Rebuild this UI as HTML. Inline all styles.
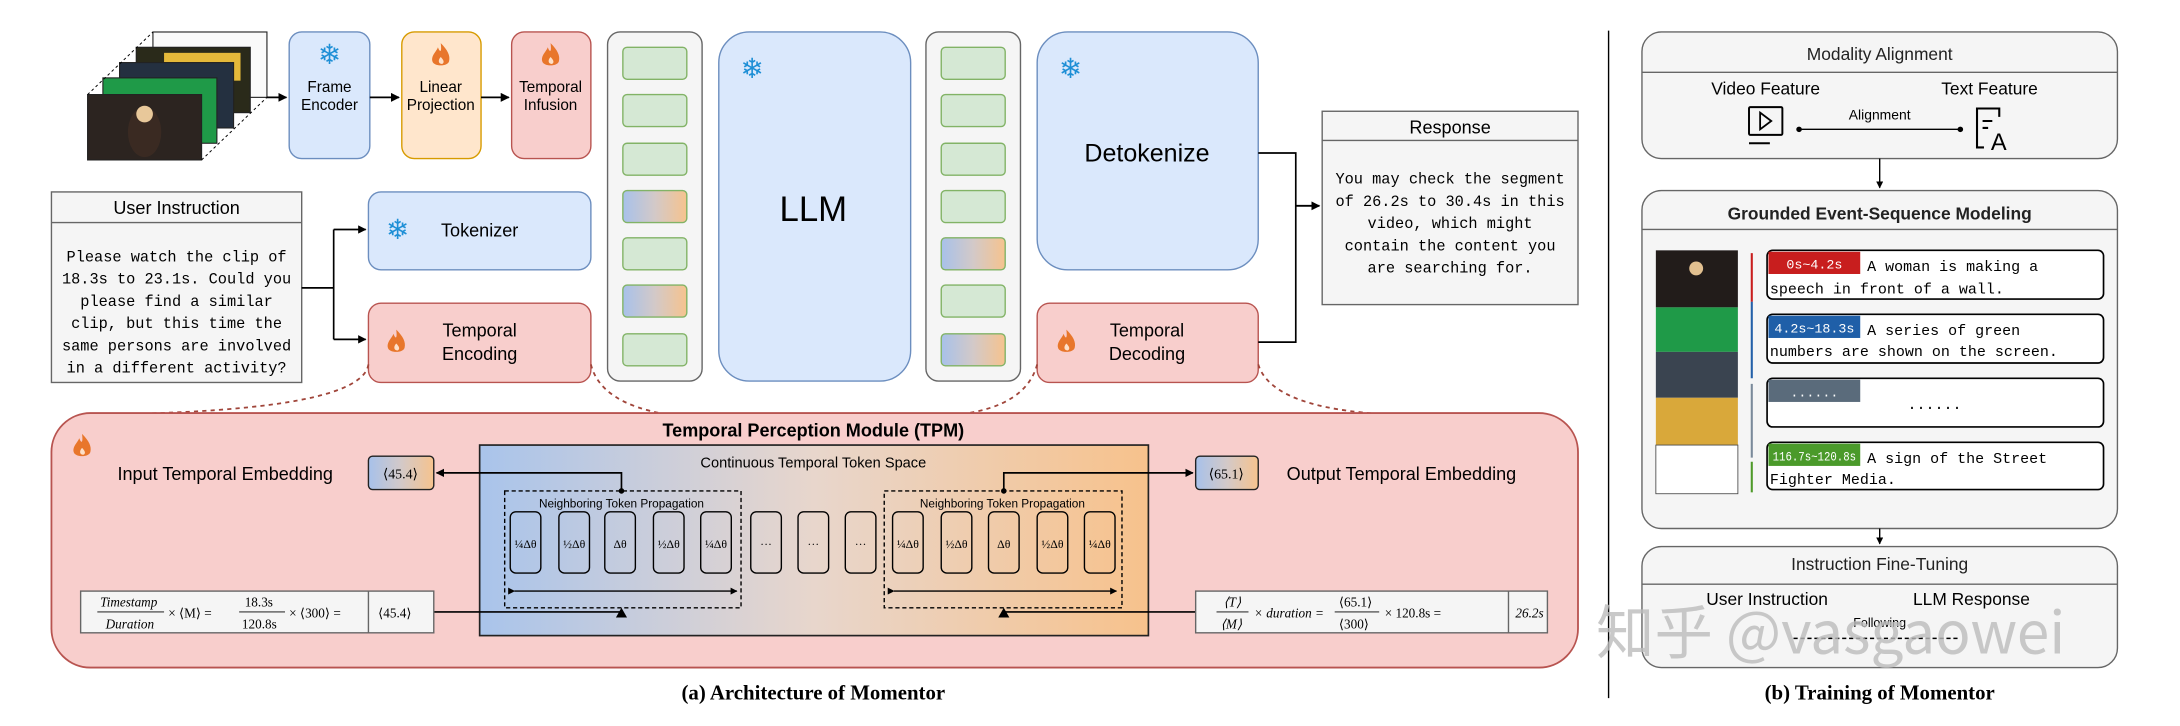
<!DOCTYPE html>
<html><head><meta charset="utf-8"><style>
html,body{margin:0;padding:0;background:#fff;}
svg{display:block;}
text{font-family:"Liberation Sans",sans-serif;}
text.m,.m text{font-family:"Liberation Mono",monospace;}
text.s,.s text{font-family:"Liberation Serif",serif;}
text.sf{font-family:"DejaVu Sans",sans-serif;fill:#1e8fd6;}
</style></head><body>
<svg width="2180" height="726" viewBox="0 0 1568 522" preserveAspectRatio="none" xmlns="http://www.w3.org/2000/svg">
<defs>
<linearGradient id="g" x1="0" x2="1"><stop offset="0" stop-color="#a9c4eb"/><stop offset="0.5" stop-color="#e8d6cc"/><stop offset="1" stop-color="#f7c28c"/></linearGradient>
<linearGradient id="g2" x1="0" x2="1"><stop offset="0" stop-color="#a7c1ea"/><stop offset="0.5" stop-color="#d3c9c8"/><stop offset="1" stop-color="#f6c38e"/></linearGradient>
<marker id="a" viewBox="0 0 10 10" refX="9" refY="5" markerWidth="5" markerHeight="5" orient="auto"><path d="M0,0L10,5L0,10z" fill="#000"/></marker>
<g id="fl"><path d="M0,-9 C5,-4 7,0 6,4 C5,8 -5,8 -6,4 C-7,0 -3,-3 -2,-6 C-1,-3 1,-1 0,-9z" fill="#e8762b"/><path d="M0,1 C2,3 3,5 1,6 C-2,6 -2,3 0,1z" fill="#fde0c8"/></g>
</defs>
<rect width="1568" height="522" fill="#fff"/>

<g stroke="#222" stroke-width="0.8">
<rect x="110" y="23" width="82" height="47" fill="#fafafa"/>
<rect x="98" y="34" width="82" height="47" fill="#2a2a1a"/>
<rect x="118" y="38" width="55" height="20" fill="#e5b93a" stroke="none"/>
<rect x="86" y="45" width="82" height="47" fill="#243040"/>
<rect x="74" y="56" width="82" height="47" fill="#1f9a48"/>
<rect x="63" y="68" width="82" height="47" fill="#2c2420"/>
</g>
<ellipse cx="104" cy="95" rx="12" ry="18" fill="#3a2a22"/><circle cx="104" cy="82" r="6" fill="#e8c89a"/>
<g stroke="#000" stroke-width="0.7" stroke-dasharray="2,2" fill="none"><path d="M63,68L110,23M145,115L192,70"/></g>
<line x1="192" y1="70" x2="206" y2="70" stroke="#000" stroke-width="1.3" marker-end="url(#a)"/>

<rect x="208" y="23" width="58" height="91" rx="9" fill="#dae8fc" stroke="#6c8ebf"/>
<text class="sf" x="237" y="46" font-size="20" text-anchor="middle">❄</text>
<text x="237" y="66" font-size="11" text-anchor="middle">Frame</text><text x="237" y="79" font-size="11" text-anchor="middle">Encoder</text>
<line x1="266" y1="70" x2="287" y2="70" stroke="#000" stroke-width="1.3" marker-end="url(#a)"/>
<rect x="289" y="23" width="57" height="91" rx="9" fill="#ffe6cc" stroke="#d79b00"/>
<use href="#fl" x="317" y="40"/>
<text x="317" y="66" font-size="11" text-anchor="middle">Linear</text><text x="317" y="79" font-size="11" text-anchor="middle">Projection</text>
<line x1="346" y1="70" x2="366" y2="70" stroke="#000" stroke-width="1.3" marker-end="url(#a)"/>
<rect x="368" y="23" width="57" height="91" rx="9" fill="#f8cecc" stroke="#b85450"/>
<use href="#fl" x="396" y="40"/>
<text x="396" y="66" font-size="11" text-anchor="middle">Temporal</text><text x="396" y="79" font-size="11" text-anchor="middle">Infusion</text>

<rect x="437" y="23" width="68" height="251" rx="9" fill="#f5f5f5" stroke="#666"/>
<g stroke="#82b366">
<rect x="448" y="34" width="46" height="23" rx="3" fill="#d5e8d4"/>
<rect x="448" y="68" width="46" height="23" rx="3" fill="#d5e8d4"/>
<rect x="448" y="103" width="46" height="23" rx="3" fill="#d5e8d4"/>
<rect x="448" y="137" width="46" height="23" rx="3" fill="url(#g2)"/>
<rect x="448" y="171" width="46" height="23" rx="3" fill="#d5e8d4"/>
<rect x="448" y="205" width="46" height="23" rx="3" fill="url(#g2)"/>
<rect x="448" y="240" width="46" height="23" rx="3" fill="#d5e8d4"/>
</g>
<rect x="517" y="23" width="138" height="251" rx="22" fill="#dae8fc" stroke="#6c8ebf"/>
<text class="sf" x="541" y="56" font-size="20" text-anchor="middle">❄</text>
<text x="585" y="159" font-size="25" text-anchor="middle">LLM</text>
<rect x="666" y="23" width="68" height="251" rx="9" fill="#f5f5f5" stroke="#666"/>
<g stroke="#82b366">
<rect x="677" y="34" width="46" height="23" rx="3" fill="#d5e8d4"/>
<rect x="677" y="68" width="46" height="23" rx="3" fill="#d5e8d4"/>
<rect x="677" y="103" width="46" height="23" rx="3" fill="#d5e8d4"/>
<rect x="677" y="137" width="46" height="23" rx="3" fill="#d5e8d4"/>
<rect x="677" y="171" width="46" height="23" rx="3" fill="url(#g2)"/>
<rect x="677" y="205" width="46" height="23" rx="3" fill="#d5e8d4"/>
<rect x="677" y="240" width="46" height="23" rx="3" fill="url(#g2)"/>
</g>
<rect x="746" y="23" width="159" height="171" rx="22" fill="#dae8fc" stroke="#6c8ebf"/>
<text class="sf" x="770" y="56" font-size="20" text-anchor="middle">❄</text>
<text x="825" y="116" font-size="18" text-anchor="middle">Detokenize</text>
<rect x="746" y="218" width="159" height="57" rx="9" fill="#f8cecc" stroke="#b85450"/>
<use href="#fl" x="767" y="246"/>
<text x="825" y="242" font-size="13" text-anchor="middle">Temporal</text><text x="825" y="259" font-size="13" text-anchor="middle">Decoding</text>
<path d="M905,110H932V246H905" fill="none" stroke="#000" stroke-width="1.2"/>
<line x1="932" y1="148" x2="949" y2="148" stroke="#000" stroke-width="1.3" marker-end="url(#a)"/>

<rect x="951" y="80" width="184" height="139" fill="#f5f5f5" stroke="#666"/>
<line x1="951" y1="101" x2="1135" y2="101" stroke="#666"/>
<text x="1043" y="96" font-size="13" text-anchor="middle">Response</text>
<g class="m" font-size="11" text-anchor="middle">
<text x="1043" y="132">You may check the segment</text>
<text x="1043" y="148">of 26.2s to 30.4s in this</text>
<text x="1043" y="164">video, which might</text>
<text x="1043" y="180">contain the content you</text>
<text x="1043" y="196">are searching for.</text>
</g>

<rect x="37" y="138" width="180" height="137" fill="#f5f5f5" stroke="#666"/>
<line x1="37" y1="160" x2="217" y2="160" stroke="#666"/>
<text x="127" y="154" font-size="13" text-anchor="middle">User Instruction</text>
<g class="m" font-size="11" text-anchor="middle">
<text x="127" y="188">Please watch the clip of</text>
<text x="127" y="204">18.3s to 23.1s. Could you</text>
<text x="127" y="220">please find a similar</text>
<text x="127" y="236">clip, but this time the</text>
<text x="127" y="252">same persons are involved</text>
<text x="127" y="268">in a different activity?</text>
</g>
<path d="M217,207H240M240,165V244" fill="none" stroke="#000" stroke-width="1.2"/>
<line x1="240" y1="165" x2="263" y2="165" stroke="#000" stroke-width="1.2" marker-end="url(#a)"/>
<line x1="240" y1="244" x2="263" y2="244" stroke="#000" stroke-width="1.2" marker-end="url(#a)"/>
<rect x="265" y="138" width="160" height="56" rx="9" fill="#dae8fc" stroke="#6c8ebf"/>
<text class="sf" x="286" y="172" font-size="20" text-anchor="middle">❄</text>
<text x="345" y="170" font-size="13" text-anchor="middle">Tokenizer</text>
<rect x="265" y="218" width="160" height="57" rx="9" fill="#f8cecc" stroke="#b85450"/>
<use href="#fl" x="285" y="246"/>
<text x="345" y="242" font-size="13" text-anchor="middle">Temporal</text><text x="345" y="259" font-size="13" text-anchor="middle">Encoding</text>

<g fill="none" stroke="#a0453a" stroke-width="1.3" stroke-dasharray="3,3">
<path d="M265,262 Q260,296 70,298"/>
<path d="M425,262 Q432,290 480,298"/>
<path d="M746,262 Q738,292 690,298"/>
<path d="M905,262 Q915,294 1000,298"/>
</g>

<rect x="37" y="297" width="1098" height="183" rx="28" fill="#f8cecc" stroke="#b85450" stroke-width="1.3"/>
<text x="585" y="314" font-size="13" font-weight="bold" text-anchor="middle">Temporal Perception Module (TPM)</text>
<use href="#fl" x="59" y="321"/>
<rect x="345" y="320" width="481" height="137" fill="url(#g)" stroke="#222" stroke-width="1.2"/>
<text x="585" y="336" font-size="10.5" text-anchor="middle">Continuous Temporal Token Space</text>
<text x="162" y="345" font-size="13" text-anchor="middle">Input Temporal Embedding</text>
<rect x="265" y="328" width="47" height="24" rx="3" fill="url(#g2)" stroke="#222"/>
<text class="s" x="288" y="344" font-size="10" text-anchor="middle">⟨45.4⟩</text>
<rect x="860" y="328" width="45" height="24" rx="3" fill="url(#g2)" stroke="#222"/>
<text class="s" x="882" y="344" font-size="10" text-anchor="middle">⟨65.1⟩</text>
<text x="1008" y="345" font-size="13" text-anchor="middle">Output Temporal Embedding</text>

<g fill="none" stroke="#000" stroke-dasharray="3,2"><rect x="363" y="353" width="170" height="84"/><rect x="636" y="353" width="171" height="84"/></g>
<text x="447" y="365" font-size="8.5" text-anchor="middle">Neighboring Token Propagation</text>
<text x="721" y="365" font-size="8.5" text-anchor="middle">Neighboring Token Propagation</text>
<g fill="none" stroke="#000" stroke-width="1">
<rect x="367" y="368" width="22" height="44" rx="4"/><rect x="402" y="368" width="22" height="44" rx="4"/><rect x="435" y="368" width="22" height="44" rx="4"/><rect x="470" y="368" width="22" height="44" rx="4"/><rect x="504" y="368" width="22" height="44" rx="4"/>
<rect x="540" y="368" width="22" height="44" rx="4"/><rect x="574" y="368" width="22" height="44" rx="4"/><rect x="608" y="368" width="22" height="44" rx="4"/>
<rect x="642" y="368" width="22" height="44" rx="4"/><rect x="677" y="368" width="22" height="44" rx="4"/><rect x="711" y="368" width="22" height="44" rx="4"/><rect x="746" y="368" width="22" height="44" rx="4"/><rect x="780" y="368" width="22" height="44" rx="4"/>
</g>
<g class="s" font-size="8.5" text-anchor="middle">
<text x="378" y="394">¼Δθ</text><text x="413" y="394">½Δθ</text><text x="446" y="394">Δθ</text><text x="481" y="394">½Δθ</text><text x="515" y="394">¼Δθ</text>
<text x="551" y="394">···</text><text x="585" y="394">···</text><text x="619" y="394">···</text>
<text x="653" y="394">¼Δθ</text><text x="688" y="394">½Δθ</text><text x="722" y="394">Δθ</text><text x="757" y="394">½Δθ</text><text x="791" y="394">¼Δθ</text>
</g>
<g stroke="#000" stroke-width="1">
<line x1="370" y1="425" x2="530" y2="425" marker-end="url(#a)" marker-start="url(#a)"/>
<line x1="643" y1="425" x2="803" y2="425" marker-end="url(#a)" marker-start="url(#a)"/>
</g>
<g fill="none" stroke="#000" stroke-width="1.2">
<path d="M447,353V340H314" marker-end="url(#a)"/>
<path d="M312,440H447V442"/>
<path d="M722,353V340H858" marker-end="url(#a)"/>
<path d="M860,440H722V442"/>
</g>
<path d="M443,444L447,437L451,444z M718,444L722,437L726,444z"/>
<circle cx="447" cy="353" r="2"/><circle cx="722" cy="353" r="2"/>

<rect x="58" y="425" width="254" height="30" fill="#f5f5f5" stroke="#666"/><line x1="265" y1="425" x2="265" y2="455" stroke="#666"/>
<g class="s" font-size="9.5" font-style="italic"><text x="72" y="436">Timestamp</text><text x="76" y="452">Duration</text><line x1="70" y1="440" x2="118" y2="440" stroke="#000" stroke-width="0.6"/>
<text x="121" y="444" font-style="normal">× ⟨M⟩ =</text><text x="176" y="436" font-style="normal">18.3s</text><text x="174" y="452" font-style="normal">120.8s</text><line x1="172" y1="440" x2="205" y2="440" stroke="#000" stroke-width="0.6"/>
<text x="208" y="444" font-style="normal">× ⟨300⟩ =</text><text x="272" y="444" font-style="normal">⟨45.4⟩</text></g>
<rect x="860" y="425" width="253" height="30" fill="#f5f5f5" stroke="#666"/><line x1="1085" y1="425" x2="1085" y2="455" stroke="#666"/>
<g class="s" font-size="9.5" font-style="italic"><text x="880" y="436">⟨T⟩</text><text x="878" y="452">⟨M⟩</text><line x1="875" y1="440" x2="898" y2="440" stroke="#000" stroke-width="0.6"/>
<text x="902" y="444">× duration =</text><text x="963" y="436" font-style="normal">⟨65.1⟩</text><text x="963" y="452" font-style="normal">⟨300⟩</text><line x1="960" y1="440" x2="992" y2="440" stroke="#000" stroke-width="0.6"/>
<text x="996" y="444" font-style="normal">× 120.8s =</text><text x="1090" y="444">26.2s</text></g>
<text class="s" x="585" y="503" font-size="15" font-weight="bold" text-anchor="middle">(a) Architecture of Momentor</text>

<line x1="1157" y1="22" x2="1157" y2="502" stroke="#000"/>
<rect x="1181" y="23" width="342" height="91" rx="14" fill="#f5f5f5" stroke="#666"/>
<line x1="1181" y1="52" x2="1523" y2="52" stroke="#666"/>
<text x="1352" y="43" font-size="12.5" text-anchor="middle" fill="#222">Modality Alignment</text>
<text x="1270" y="68" font-size="12.5" text-anchor="middle">Video Feature</text>
<text x="1431" y="68" font-size="12.5" text-anchor="middle">Text Feature</text>
<rect x="1258" y="77" width="24" height="20" rx="1" fill="none" stroke="#000" stroke-width="1.4"/><path d="M1266,81L1274,87L1266,93z" fill="none" stroke="#000" stroke-width="1.3"/><line x1="1258" y1="103" x2="1273" y2="103" stroke="#000" stroke-width="1.4"/>
<line x1="1294" y1="93" x2="1410" y2="93" stroke="#000"/><circle cx="1294" cy="93" r="2"/><circle cx="1410" cy="93" r="2"/>
<text x="1352" y="86" font-size="10" text-anchor="middle">Alignment</text>
<path d="M1438,84V78H1422V106H1427M1426,87H1433M1426,92H1430" fill="none" stroke="#000" stroke-width="1.5"/><text x="1432" y="108" font-size="17">A</text>
<line x1="1352" y1="114" x2="1352" y2="135" stroke="#000" marker-end="url(#a)"/>

<rect x="1181" y="137" width="342" height="243" rx="14" fill="#f5f5f5" stroke="#666"/>
<line x1="1181" y1="165" x2="1523" y2="165" stroke="#666"/>
<text x="1352" y="158" font-size="12.5" font-weight="bold" text-anchor="middle" fill="#222">Grounded Event-Sequence Modeling</text>
<rect x="1191" y="180" width="59" height="41" fill="#221c1a"/><circle cx="1220" cy="193" r="5" fill="#e2c090"/>
<rect x="1191" y="221" width="59" height="32" fill="#1f9a48"/>
<rect x="1191" y="253" width="59" height="33" fill="#3a4450"/>
<rect x="1191" y="286" width="59" height="34" fill="#d9a83a"/>
<rect x="1191" y="320" width="59" height="35" fill="#fff" stroke="#444" stroke-width="0.6"/>
<line x1="1260" y1="182" x2="1260" y2="217" stroke="#c81e1e" stroke-width="1.5"/>
<line x1="1260" y1="217" x2="1260" y2="272" stroke="#2461a8" stroke-width="1.5"/>
<line x1="1260" y1="276" x2="1260" y2="329" stroke="#7a8a9a" stroke-width="1.5"/>
<line x1="1260" y1="332" x2="1260" y2="354" stroke="#4f9a2a" stroke-width="1.5"/>
<g fill="#fff" stroke="#000" stroke-width="1.2">
<rect x="1271" y="180" width="242" height="35" rx="4"/><rect x="1271" y="226" width="242" height="35" rx="4"/><rect x="1271" y="272" width="242" height="35" rx="4"/><rect x="1271" y="318" width="242" height="34" rx="4"/>
</g>
<rect x="1272" y="181" width="66" height="16" fill="#c81e1e"/><rect x="1272" y="227" width="66" height="16" fill="#1f5fa8"/><rect x="1272" y="273" width="66" height="16" fill="#5a6b7b"/><rect x="1272" y="319" width="66" height="16" fill="#4a9a2a"/>
<g class="m" font-size="10.8">
<text x="1305" y="193" text-anchor="middle" fill="#fff" font-size="9.6">0s~4.2s</text><text x="1343" y="195">A woman is making a</text><text x="1273" y="211">speech in front of a wall.</text>
<text x="1305" y="239" text-anchor="middle" fill="#fff" font-size="9.6">4.2s~18.3s</text><text x="1343" y="241">A series of green</text><text x="1273" y="256">numbers are shown on the screen.</text>
<text x="1305" y="285" text-anchor="middle" fill="#fff" font-size="9.6">......</text><text x="1372" y="294">......</text>
<text x="1275" y="331" fill="#fff" font-size="9.6" textLength="60" lengthAdjust="spacingAndGlyphs">116.7s~120.8s</text><text x="1343" y="333">A sign of the Street</text><text x="1273" y="348">Fighter Media.</text>
</g>
<line x1="1352" y1="380" x2="1352" y2="391" stroke="#000" marker-end="url(#a)"/>
<rect x="1181" y="393" width="342" height="87" rx="14" fill="#f5f5f5" stroke="#666"/>
<line x1="1181" y1="420" x2="1523" y2="420" stroke="#666"/>
<text x="1352" y="410" font-size="12.5" text-anchor="middle" fill="#222">Instruction Fine-Tuning</text>
<text x="1271" y="435" font-size="12.5" text-anchor="middle">User Instruction</text>
<text x="1418" y="435" font-size="12.5" text-anchor="middle">LLM Response</text>
<text x="1352" y="451" font-size="9" text-anchor="middle">Following</text>
<line x1="1290" y1="459" x2="1410" y2="459" stroke="#000" stroke-dasharray="3,2"/>
<text style="font-family:'Noto Sans CJK SC',sans-serif" x="1148" y="470" font-size="42" fill="#bbb" fill-opacity="0.8">知乎 @vasgaowei</text>
<text class="s" x="1352" y="503" font-size="15" font-weight="bold" text-anchor="middle">(b) Training of Momentor</text>
</svg>
</body></html>
